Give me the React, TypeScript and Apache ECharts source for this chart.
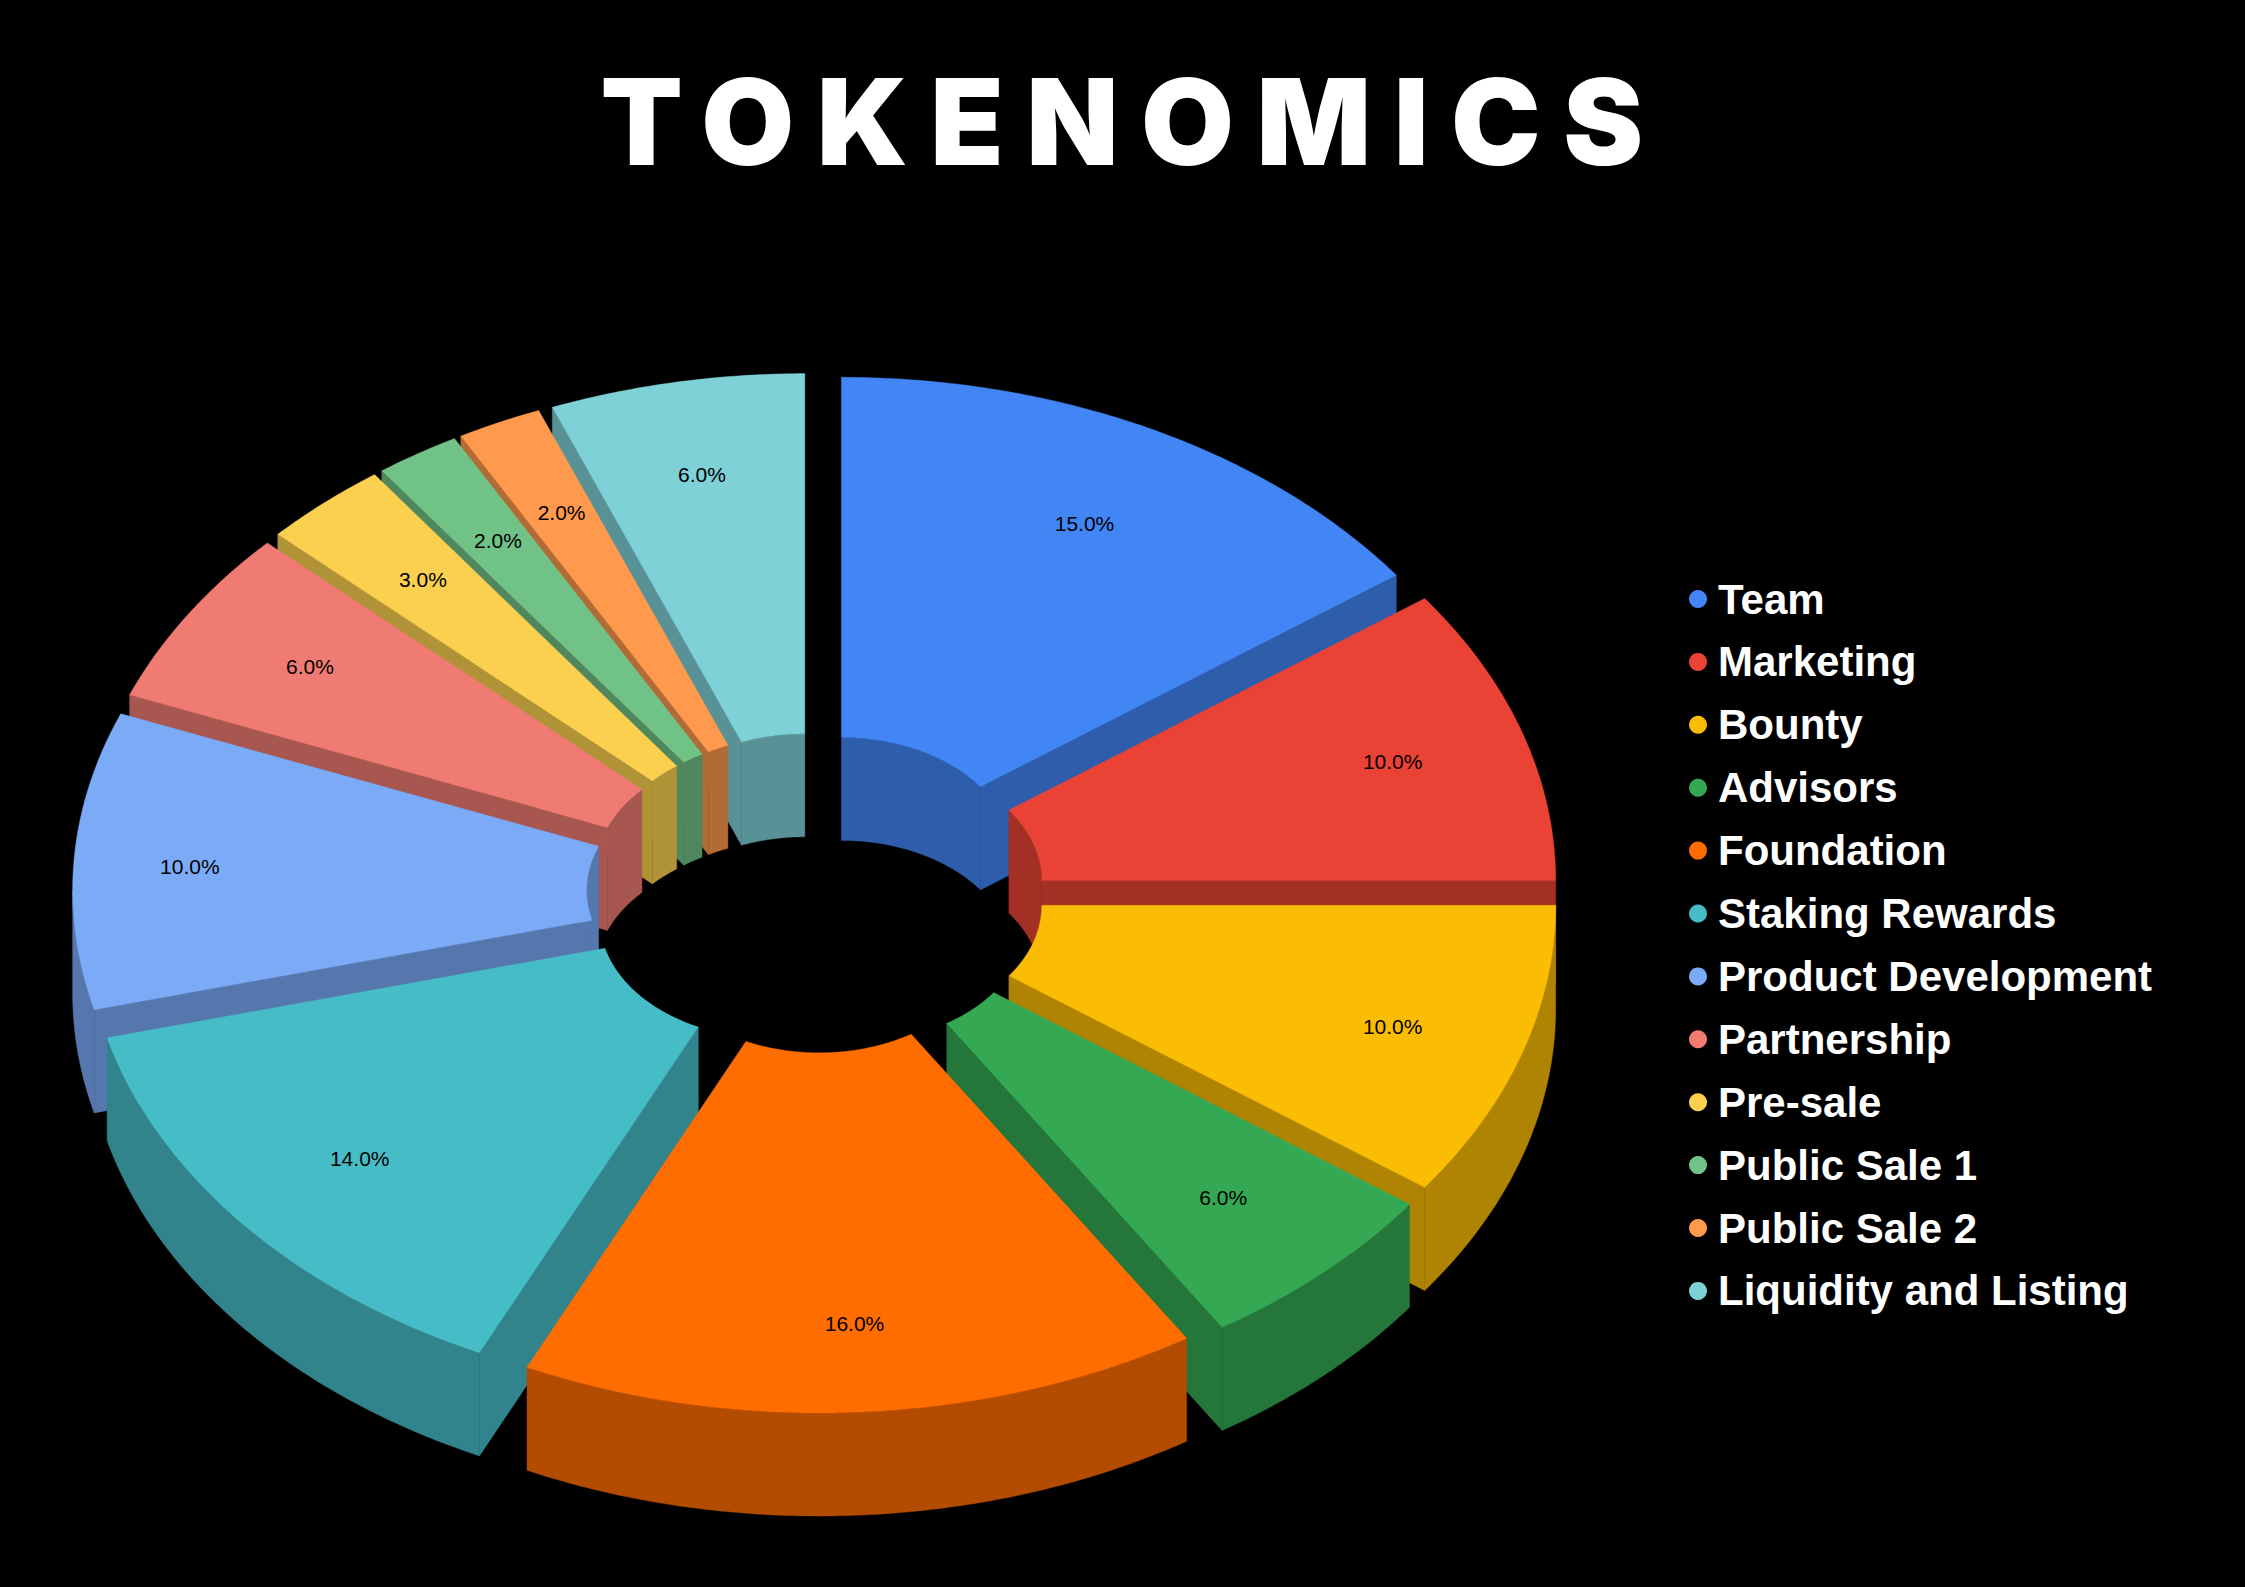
import React, { useEffect, useRef } from "react";
import * as echarts from "echarts";

const titleText = "TOKENOMICS";
const categories = ["Team", "Marketing", "Bounty", "Advisors", "Foundation", "Staking Rewards", "Product Development", "Partnership", "Pre-sale", "Public Sale 1", "Public Sale 2", "Liquidity and Listing"];
const shares = [15, 10, 10, 6, 16, 14, 10, 6, 3, 2, 2, 6];
const colors = ["#4285F4", "#EA4335", "#FBBC04", "#34A853", "#FF6D01", "#46BDC6", "#7BAAF7", "#F07B72", "#FCD04F", "#71C287", "#FF994D", "#7ED1D7"];
// small per-slice label nudges (dx, dy in px), as placed by the original chart
const labelNudgeX = [-6, 1, 1, -7, 1, 11, -21, 6, 8, 7, 4, 0];
const labelNudgeY = [8, 0, 2, -5, 7, -5, 0, 1, 5, 6, 3, -2];

// Projection of the exploded 3D ring
const CX = 815.5, CY = 893, R = 686, TILT = 0.7, HOLE_RX = 172, HOLE_RY = 120, EXPLODE = 57, DEPTH = 103, LABEL_AT = 0.8;
const total = shares.reduce((a, b) => a + b, 0);
const rad = (d: number) => (d * Math.PI) / 180;
const startAngles: number[] = [];
shares.reduce((acc, v, i) => { startAngles[i] = acc; return acc + (v / total) * 360; }, 0);

const midAngle = (i: number) => startAngles[i] + ((shares[i] / total) * 360) / 2;
const paintRank = shares.map((_, i) => i).sort((a, b) => -Math.cos(rad(midAngle(a))) - -Math.cos(rad(midAngle(b))));

function darken(hex: string, k = 0.7) {
  const n = parseInt(hex.slice(1), 16);
  const c = [(n >> 16) & 255, (n >> 8) & 255, n & 255].map((v) => Math.round(v * k));
  return `rgb(${c[0]},${c[1]},${c[2]})`;
}

function arc(a0: number, a1: number, cx: number, cy: number, rx: number, ry: number) {
  const pts: number[][] = [];
  const n = Math.max(2, Math.ceil(Math.abs(a1 - a0) * 2));
  for (let k = 0; k <= n; k++) {
    const a = rad(a0 + ((a1 - a0) * k) / n);
    pts.push([cx + rx * Math.sin(a), cy - ry * Math.cos(a)]);
  }
  return pts;
}
const wall = (pts: number[][]) => [...pts, ...pts.slice().reverse().map((p) => [p[0], p[1] + DEPTH])];

function overlap(a0: number, a1: number, lo: number, hi: number): [number, number] | null {
  const s = Math.max(a0, lo), e = Math.min(a1, hi);
  return e > s ? [s, e] : null;
}

function renderSlice(i: number) {
  const a0 = startAngles[i];
  const sweep = (shares[i] / total) * 360;
  const a1 = a0 + sweep;
  const m = rad(midAngle(i));
  const cx = CX + EXPLODE * Math.sin(m);
  const cy = CY - EXPLODE * TILT * Math.cos(m);
  const ry = R * TILT;
  const top = colors[i];
  const side = darken(top);
  const children: any[] = [];
  const poly = (points: number[][], fill: string) => children.push({ type: "polygon", shape: { points }, style: { fill, stroke: fill, lineWidth: 0.4 } });

  const outerOut = overlap(a0, a1, 90, 270);
  if (outerOut) poly(wall(arc(outerOut[0], outerOut[1], cx, cy, R, ry)), side);
  [overlap(a0, a1, -90, 90), overlap(a0, a1, 270, 450)].forEach((r) => {
    if (r) poly(wall(arc(r[0], r[1], cx, cy, HOLE_RX, HOLE_RY)), side);
  });
  const radial = (a: number) => {
    const [p] = arc(a, a, cx, cy, R, ry);
    const [q] = arc(a, a, cx, cy, HOLE_RX, HOLE_RY);
    poly([p, q, [q[0], q[1] + DEPTH], [p[0], p[1] + DEPTH]], side);
  };
  if (Math.sin(rad(a0)) < -1e-6) radial(a0);
  if (Math.sin(rad(a1)) > 1e-6) radial(a1);

  poly([...arc(a0, a1, cx, cy, R, ry), ...arc(a1, a0, cx, cy, HOLE_RX, HOLE_RY)], top);
  children.push({
    type: "text",
    style: {
      text: `${((shares[i] / total) * 100).toFixed(1)}%`,
      x: cx + R * LABEL_AT * Math.sin(m) + labelNudgeX[i],
      y: cy - ry * LABEL_AT * Math.cos(m) + labelNudgeY[i],
      align: "center",
      verticalAlign: "middle",
      fill: "#000000",
      font: "21px 'Liberation Sans', Arial, sans-serif",
    },
  });
  return { type: "group", children };
}

export default function App() {
  const ref = useRef<HTMLDivElement>(null);
  useEffect(() => {
    document.body.style.margin = "0";
    document.body.style.background = "#000";
    const chart = echarts.init(ref.current!, undefined, { renderer: "svg" });
    chart.setOption({
      animation: false,
      backgroundColor: "#000000",
      title: {
        text: titleText,
        left: 1128,
        top: 56,
        textAlign: "center",
        textStyle: { color: "#ffffff", fontFamily: "Inter", fontWeight: 900, fontSize: 120 },
      },
      legend: {
        orient: "vertical",
        left: 1689,
        top: 578,
        padding: 0,
        icon: "circle",
        itemWidth: 30,
        itemHeight: 18,
        itemGap: 20.9,
        selectedMode: false,
        data: categories,
        textStyle: { color: "#ffffff", fontFamily: "'Liberation Sans'", fontWeight: "bold", fontSize: 42 },
      },
      series: categories.map((name, i) => ({
        type: "custom",
        name,
        coordinateSystem: "none",
        z: 2 + paintRank.indexOf(i),
        itemStyle: { color: colors[i] },
        data: [[shares[i]]],
        renderItem: () => renderSlice(i),
      })),
    });
    const applySpacing = () => {
      ref.current?.querySelectorAll("text").forEach((t) => {
        if (t.textContent === titleText) t.style.letterSpacing = "0.187em";
      });
    };
    applySpacing();
    chart.on("finished", applySpacing);
    return () => chart.dispose();
  }, []);
  return <div ref={ref} style={{ width: 2245, height: 1587 }} />;
}
